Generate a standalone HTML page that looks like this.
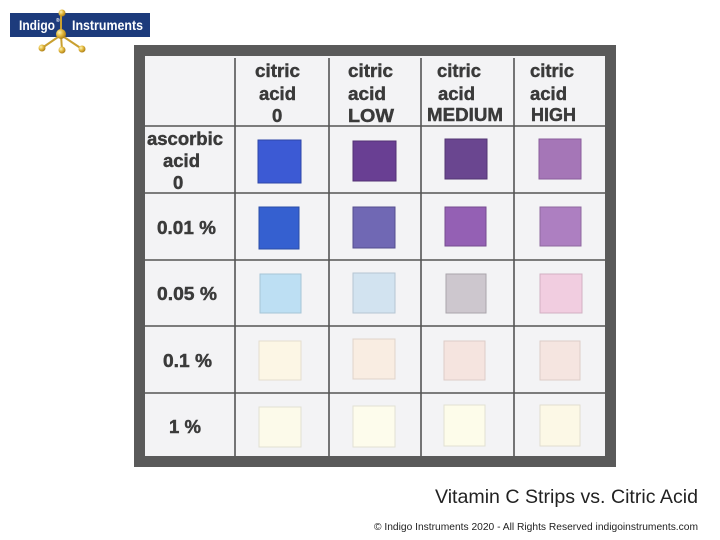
<!DOCTYPE html>
<html><head><meta charset="utf-8"><style>
html,body{margin:0;padding:0;background:#fff;}
svg{display:block;}
.b{font-family:"Liberation Sans",Arial,sans-serif;font-weight:700;fill:#3a3a3a;stroke:#3a3a3a;stroke-width:0.45px;font-size:18.5px;}
.r{font-family:"Liberation Sans",Arial,sans-serif;font-weight:400;}
.lg{font-family:"Liberation Sans",Arial,sans-serif;font-weight:700;fill:#fff;font-size:14px;}
</style></head><body>
<svg width="720" height="540" viewBox="0 0 720 540" xmlns="http://www.w3.org/2000/svg">
<defs>
<radialGradient id="gold" cx="0.35" cy="0.35" r="0.7">
<stop offset="0" stop-color="#fff4b8"/><stop offset="0.5" stop-color="#e2b83c"/><stop offset="1" stop-color="#a87a18"/>
</radialGradient>
</defs>
<rect width="720" height="540" fill="#fff"/>
<!-- logo -->
<rect x="10" y="13" width="140" height="24" fill="#1d3b7c"/>
<g class="lg">
<text x="19" y="30" textLength="36" lengthAdjust="spacingAndGlyphs">Indigo</text>
<text x="56" y="22" style="font-size:5px">®</text>
<text x="72" y="30" textLength="71" lengthAdjust="spacingAndGlyphs">Instruments</text>
</g>
<g stroke="#c9a030" stroke-width="2">
<line x1="61" y1="13" x2="61" y2="35"/>
<line x1="61" y1="35" x2="42" y2="48"/>
<line x1="61" y1="35" x2="62" y2="50"/>
<line x1="61" y1="35" x2="82" y2="49"/>
</g>
<circle cx="62" cy="13" r="3.5" fill="url(#gold)"/>
<circle cx="61" cy="34" r="5" fill="url(#gold)"/>
<circle cx="42" cy="48" r="3.5" fill="url(#gold)"/>
<circle cx="62" cy="50" r="3.5" fill="url(#gold)"/>
<circle cx="82" cy="49" r="3.5" fill="url(#gold)"/>

<!-- frame -->
<rect x="134" y="45" width="482" height="422" fill="#5a5a5a"/>
<rect x="145" y="56" width="460" height="400" fill="#f3f3f5"/>
<g stroke="#555" stroke-width="1.6">
<line x1="145" y1="126" x2="605" y2="126"/>
<line x1="145" y1="193" x2="605" y2="193"/>
<line x1="145" y1="260" x2="605" y2="260"/>
<line x1="145" y1="326" x2="605" y2="326"/>
<line x1="145" y1="393" x2="605" y2="393"/>
<line x1="235" y1="58" x2="235" y2="456"/>
<line x1="329" y1="58" x2="329" y2="456"/>
<line x1="421" y1="58" x2="421" y2="456"/>
<line x1="514" y1="58" x2="514" y2="456"/>
</g>

<!-- headers -->
<g class="b">
<text x="255" y="77" textLength="45" lengthAdjust="spacingAndGlyphs">citric</text>
<text x="259" y="100" textLength="37" lengthAdjust="spacingAndGlyphs">acid</text>
<text x="272" y="122">0</text>
<text x="348" y="77" textLength="45" lengthAdjust="spacingAndGlyphs">citric</text>
<text x="348" y="100" textLength="38" lengthAdjust="spacingAndGlyphs">acid</text>
<text x="348" y="122" textLength="46" lengthAdjust="spacingAndGlyphs">LOW</text>
<text x="437" y="77" textLength="44" lengthAdjust="spacingAndGlyphs">citric</text>
<text x="438" y="100" textLength="37" lengthAdjust="spacingAndGlyphs">acid</text>
<text x="427" y="121" textLength="76" lengthAdjust="spacingAndGlyphs">MEDIUM</text>
<text x="530" y="77" textLength="44" lengthAdjust="spacingAndGlyphs">citric</text>
<text x="530" y="100" textLength="37" lengthAdjust="spacingAndGlyphs">acid</text>
<text x="531" y="121" textLength="45" lengthAdjust="spacingAndGlyphs">HIGH</text>

<text x="147" y="145" textLength="76" lengthAdjust="spacingAndGlyphs">ascorbic</text>
<text x="163" y="167" textLength="37" lengthAdjust="spacingAndGlyphs">acid</text>
<text x="173" y="189">0</text>
<text x="157" y="234" textLength="59" lengthAdjust="spacingAndGlyphs">0.01 %</text>
<text x="157" y="300" textLength="60" lengthAdjust="spacingAndGlyphs">0.05 %</text>
<text x="163" y="367" textLength="49" lengthAdjust="spacingAndGlyphs">0.1 %</text>
<text x="169" y="433" textLength="32" lengthAdjust="spacingAndGlyphs">1 %</text>
</g>

<!-- swatches -->
<g stroke-width="1">
<rect x="258" y="140" width="43" height="43" fill="#3c5ad4" stroke="#2e46a8"/>
<rect x="353" y="141" width="43" height="40" fill="#693f93" stroke="#533074"/>
<rect x="445" y="139" width="42" height="40" fill="#6a4690" stroke="#533572"/>
<rect x="539" y="139" width="42" height="40" fill="#a576b7" stroke="#8a5e9c"/>

<rect x="259" y="207" width="40" height="42" fill="#3560d0" stroke="#2a4ca6"/>
<rect x="353" y="207" width="42" height="41" fill="#7068b4" stroke="#554e8e"/>
<rect x="445" y="207" width="41" height="39" fill="#9460b4" stroke="#764b90"/>
<rect x="540" y="207" width="41" height="39" fill="#ad7fc1" stroke="#8f68a0"/>

<rect x="260" y="274" width="41" height="39" fill="#bddff3" stroke="#a6c4d6"/>
<rect x="353" y="273" width="42" height="40" fill="#d2e3f0" stroke="#b6c6d2"/>
<rect x="446" y="274" width="40" height="39" fill="#cdc7ce" stroke="#aaa4ac"/>
<rect x="540" y="274" width="42" height="39" fill="#f1cde0" stroke="#d2b0c2"/>

<rect x="259" y="341" width="42" height="39" fill="#fcf6e5" stroke="#e4ded0"/>
<rect x="353" y="339" width="42" height="40" fill="#f9ede2" stroke="#e0d4ca"/>
<rect x="444" y="341" width="41" height="39" fill="#f5e4df" stroke="#ddccc8"/>
<rect x="540" y="341" width="40" height="39" fill="#f5e5e0" stroke="#ddcdc8"/>

<rect x="259" y="407" width="42" height="40" fill="#fcfaea" stroke="#e2e0d2"/>
<rect x="353" y="406" width="42" height="41" fill="#fdfcec" stroke="#e2e1d4"/>
<rect x="444" y="405" width="41" height="41" fill="#fdfcea" stroke="#e2e1d2"/>
<rect x="540" y="405" width="40" height="41" fill="#fcf8e6" stroke="#e2ded0"/>
</g>

<!-- footer -->
<text class="r" x="435" y="503" style="font-size:19.5px" fill="#222" textLength="263" lengthAdjust="spacingAndGlyphs">Vitamin C Strips vs. Citric Acid</text>
<text class="r" x="374" y="530" style="font-size:10px" fill="#222" textLength="324" lengthAdjust="spacingAndGlyphs">© Indigo Instruments 2020 - All Rights Reserved   indigoinstruments.com</text>
</svg>
</body></html>
